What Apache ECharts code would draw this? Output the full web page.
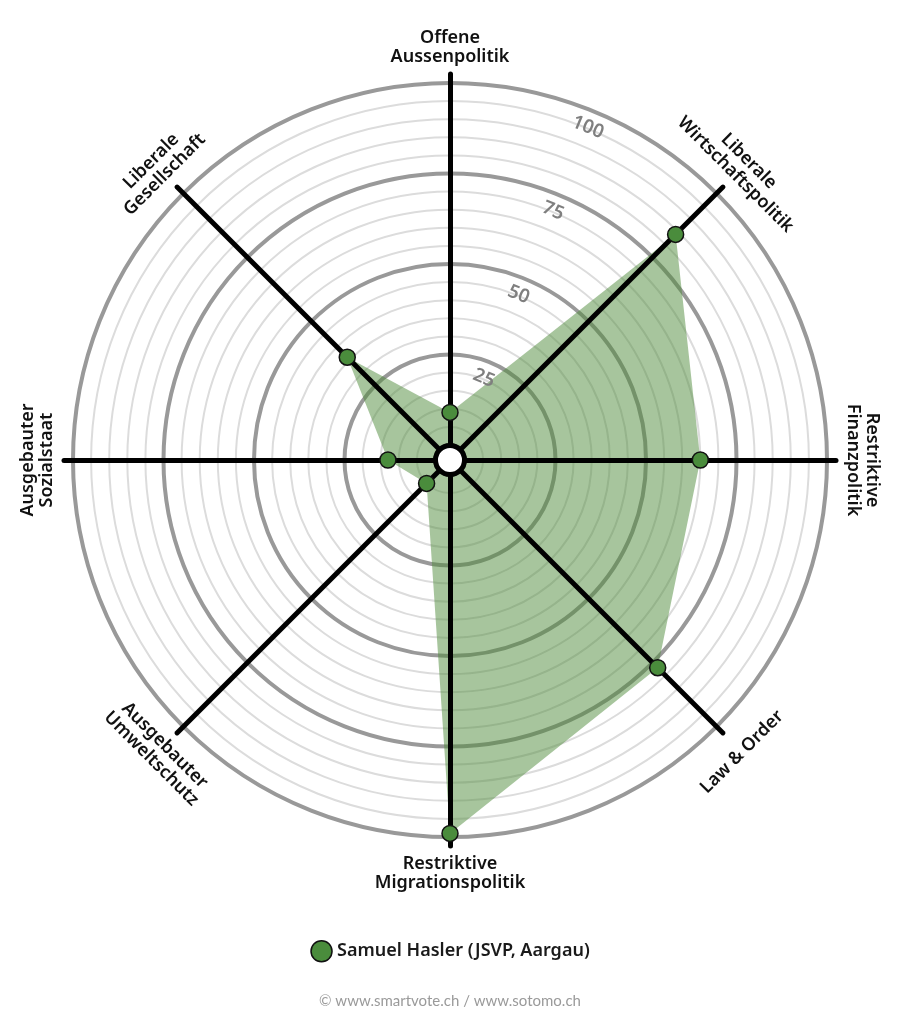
<!DOCTYPE html>
<html>
<head>
<meta charset="utf-8">
<script src="https://cdn.jsdelivr.net/npm/echarts@6/dist/echarts.min.js"></script>
<style>html,body{margin:0;padding:0;background:#fff}#c{width:900px;height:1024px}</style>
</head>
<body>
<div id="c"></div>
<script>
// categories in clockwise order starting at the top
const categories = [
  'Offene\nAussenpolitik',
  'Liberale\nWirtschaftspolitik',
  'Restriktive\nFinanzpolitik',
  'Law & Order',
  'Restriktive\nMigrationspolitik',
  'Ausgebauter\nUmweltschutz',
  'Ausgebauter\nSozialstaat',
  'Liberale\nGesellschaft'
];
const values = [9, 84, 65, 77, 99, 5, 13, 36];
const tickLabels = [25, 50, 75, 100];
const seriesName = 'Samuel Hasler (JSVP, Aargau)';

const CX = 450, CY = 460, R0 = 15, R1 = 377;
const chart = echarts.init(document.getElementById('c'));

// ECharts radar places indicators counter-clockwise; reorder to get clockwise
const order = [0].concat(categories.map((_, i) => i).slice(1).reverse());
const indicator = order.map(i => ({ name: categories[i], min: 0, max: 100 }));
const ordered = order.map(i => values[i]);

const graphics = [];
categories.forEach((name, i) => {
  const th = i * 45;
  const rad = th * Math.PI / 180;
  const RL = 413;
  const x = CX + RL * Math.sin(rad), y = CY - RL * Math.cos(rad);
  let rot = (th > 90 && th < 270) ? (th - 180) : th;
  graphics.push({
    type: 'text', x: x, y: y, rotation: -rot * Math.PI / 180, z: 10,
    style: { text: name, fill: '#111', font: '600 18px "Noto Sans"', lineHeight: 19,
      align: 'center', verticalAlign: 'middle', textAlign: 'center', textVerticalAlign: 'middle' }
  });
});
tickLabels.forEach(v => {
  const th = 22.5, rad = th * Math.PI / 180;
  const r = R0 + (R1 - R0) * v / 100 - 17;
  graphics.push({
    type: 'text', x: CX + r * Math.sin(rad), y: CY - r * Math.cos(rad), rotation: -rad, z: 10,
    style: { text: String(v), fill: '#7f7f7f', font: '600 19px "Noto Sans"',
      align: 'center', verticalAlign: 'middle', textAlign: 'center', textVerticalAlign: 'middle' }
  });
});
graphics.push({
  type: 'circle', shape: { cx: CX, cy: CY, r: 14.5 }, z: 20,
  style: { fill: '#fff', stroke: '#000', lineWidth: 5 }
});

const baseRadar = {
  center: [CX, CY], shape: 'circle', indicator: indicator, startAngle: 90,
  axisName: { show: false }, splitArea: { show: false }
};

chart.setOption({
  animation: false,
  title: {
    text: '© www.smartvote.ch / www.sotomo.ch', left: 'center', top: 989,
    textStyle: { color: '#9a9a9a', fontSize: 15, fontWeight: 'normal', fontFamily: 'Lato' }
  },
  legend: {
    data: [seriesName], left: 'center', top: 935, icon: 'circle', itemWidth: 21, itemHeight: 21, itemGap: 4,
    itemStyle: { color: '#4a8c3c', borderColor: '#111', borderWidth: 1.5 },
    textStyle: { fontSize: 18, color: '#1a1a1a', fontWeight: 600, fontFamily: 'Noto Sans' }
  },
  radar: [
    Object.assign({}, baseRadar, { z: 0, radius: [R0, R1], splitNumber: 20,
      axisLine: { show: false }, splitLine: { lineStyle: { color: '#dcdcdc', width: 2 } } }),
    Object.assign({}, baseRadar, { z: 1, radius: [R0, R1], splitNumber: 4,
      axisLine: { show: false }, splitLine: { lineStyle: { color: '#999999', width: 4 } } }),
    Object.assign({}, baseRadar, { z: 3, radius: [0, 386], splitNumber: 1,
      axisLine: { show: true, lineStyle: { color: '#000', width: 5 } }, splitLine: { show: false } })
  ],
  series: [
    { type: 'radar', radarIndex: 0, z: 2, name: seriesName, symbol: 'none',
      data: [{ value: ordered, lineStyle: { width: 0, opacity: 0 }, areaStyle: { color: 'rgba(80,140,60,0.5)', opacity: 1 } }] },
    { type: 'radar', radarIndex: 0, z: 4, name: seriesName, symbol: 'circle', symbolSize: 16,
      itemStyle: { color: '#4a8c3c', borderColor: '#111', borderWidth: 1.5 },
      lineStyle: { opacity: 0, width: 0 },
      data: [{ value: ordered }] }
  ],
  graphic: graphics
});
</script>
</body>
</html>
